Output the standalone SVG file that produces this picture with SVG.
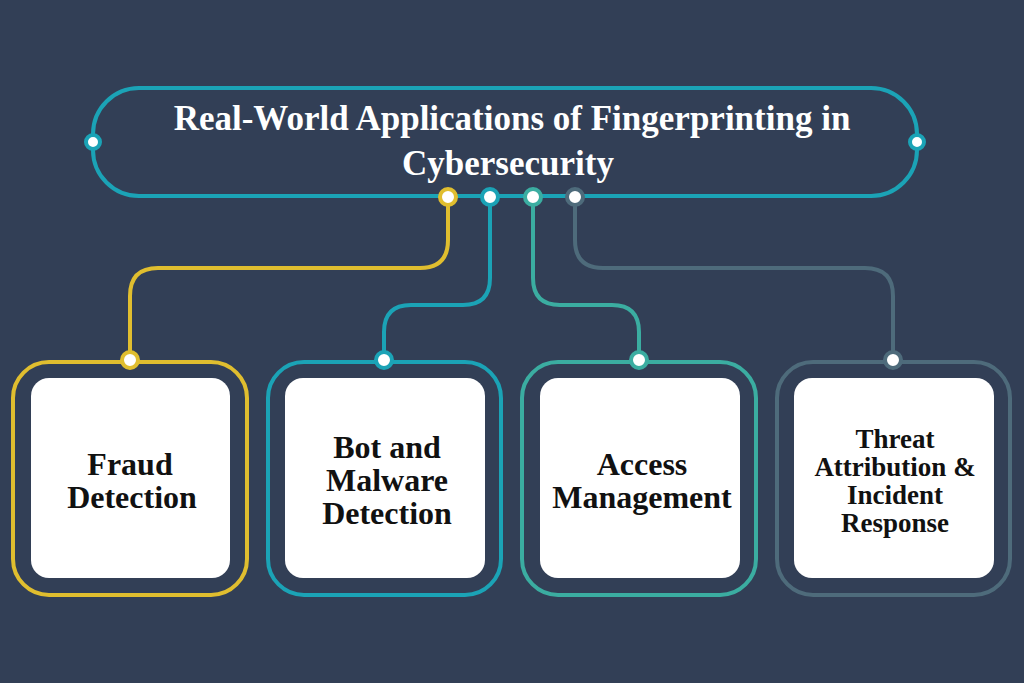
<svg xmlns="http://www.w3.org/2000/svg" width="1024" height="683" viewBox="0 0 1024 683">
<defs>
<style>
.title{font-family:"Liberation Serif",serif;font-weight:bold;font-size:35px;fill:#ffffff;text-anchor:middle}
.lbl{font-family:"Liberation Serif",serif;font-weight:bold;font-size:32px;fill:#111111;text-anchor:middle}
.lbl2{font-family:"Liberation Serif",serif;font-weight:bold;font-size:27px;fill:#111111;text-anchor:middle}
.wire{fill:none;stroke-width:4}
.dot{fill:#ffffff;stroke-width:4}
.outer{fill:none;stroke-width:4}
.inner{fill:#ffffff}
</style>
</defs>
<rect width="1024" height="683" fill="#323f56"/>
<g id="connectors">
<path class="wire" stroke="#e0be2f" d="M448,197 V240 Q448,268 420,268 H158 Q130,268 130,296 V360"/>
<path class="wire" stroke="#1ba3b6" d="M490,197 V278 Q490,305 463,305 H411 Q384,305 384,332 V360"/>
<path class="wire" stroke="#3bada1" d="M533,197 V278 Q533,305 560,305 H612 Q639,305 639,332 V360"/>
<path class="wire" stroke="#4e6b7b" d="M575,197 V240 Q575,268 603,268 H865 Q893,268 893,296 V360"/>
</g>
<g id="title">
<rect x="93" y="88" width="824" height="108" rx="46" fill="none" stroke="#1ba3b6" stroke-width="4"/>
<circle class="dot" cx="93" cy="142" r="7" stroke="#1ba3b6"/>
<circle class="dot" cx="917" cy="142" r="7" stroke="#1ba3b6"/>
<circle class="dot" cx="448" cy="197" r="8" stroke="#e0be2f"/>
<circle class="dot" cx="490" cy="197" r="8" stroke="#1ba3b6"/>
<circle class="dot" cx="533" cy="197" r="8" stroke="#3bada1"/>
<circle class="dot" cx="575" cy="197" r="8" stroke="#4e6b7b"/>
<text class="title" x="512" y="130">Real-World Applications of Fingerprinting in</text>
<text class="title" x="508" y="175">Cybersecurity</text>
</g>
<g id="fraud">
<rect class="outer" x="13" y="362" width="234" height="233" rx="36" stroke="#e0be2f"/>
<rect class="inner" x="31" y="378" width="199" height="200" rx="18"/>
<circle class="dot" cx="130" cy="360" r="8" stroke="#e0be2f"/>
<text class="lbl" x="130" y="475">Fraud</text>
<text class="lbl" x="132" y="508">Detection</text>
</g>
<g id="bot">
<rect class="outer" x="268" y="362" width="233" height="233" rx="36" stroke="#1ba3b6"/>
<rect class="inner" x="285" y="378" width="200" height="200" rx="18"/>
<circle class="dot" cx="384" cy="360" r="8" stroke="#1ba3b6"/>
<text class="lbl" x="387" y="458">Bot and</text>
<text class="lbl" x="387" y="491">Malware</text>
<text class="lbl" x="387" y="524">Detection</text>
</g>
<g id="access">
<rect class="outer" x="522" y="362" width="234" height="233" rx="36" stroke="#3bada1"/>
<rect class="inner" x="540" y="378" width="200" height="200" rx="18"/>
<circle class="dot" cx="639" cy="360" r="8" stroke="#3bada1"/>
<text class="lbl" x="642" y="475">Access</text>
<text class="lbl" x="642" y="508">Management</text>
</g>
<g id="threat">
<rect class="outer" x="777" y="362" width="233" height="233" rx="36" stroke="#4e6b7b"/>
<rect class="inner" x="794" y="378" width="200" height="200" rx="18"/>
<circle class="dot" cx="893" cy="360" r="8" stroke="#4e6b7b"/>
<text class="lbl2" x="895" y="448">Threat</text>
<text class="lbl2" x="895" y="476">Attribution &amp;</text>
<text class="lbl2" x="895" y="504">Incident</text>
<text class="lbl2" x="895" y="532">Response</text>
</g>
</svg>
